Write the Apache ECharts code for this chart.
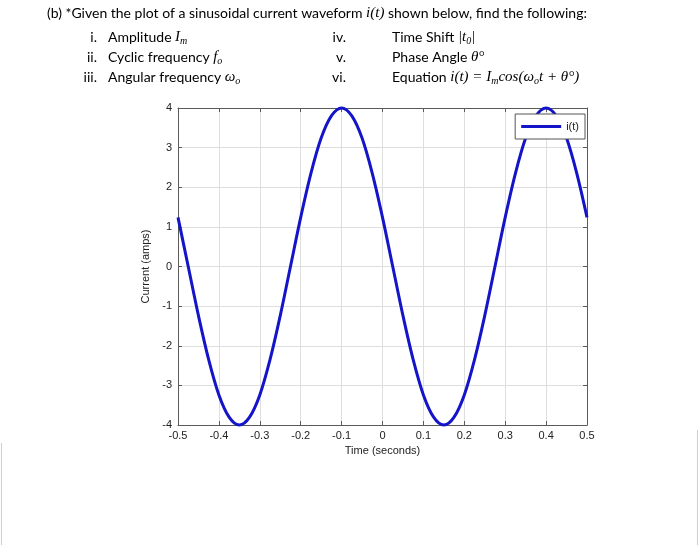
<!DOCTYPE html>
<html>
<head>
<meta charset="utf-8">
<script src="https://cdn.jsdelivr.net/npm/echarts@6/dist/echarts.min.js"></script>
<style>
  html, body { margin: 0; background: #fff; }
  #chart { width: 700px; height: 545px; }
</style>
</head>
<body>
<div id="chart"></div>
<script>
// samples, every 0.025 s
const timeVals = [-0.5, -0.475, -0.45, -0.425, -0.4, -0.375, -0.35, -0.325, -0.3, -0.275,
  -0.25, -0.225, -0.2, -0.175, -0.15, -0.125, -0.1, -0.075, -0.05, -0.025,
  0, 0.025, 0.05, 0.075, 0.1, 0.125, 0.15, 0.175, 0.2, 0.225,
  0.25, 0.275, 0.3, 0.325, 0.35, 0.375, 0.4, 0.425, 0.45, 0.475, 0.5];
const currentVals = [1.24, 0, -1.24, -2.35, -3.24, -3.8, -4, -3.8, -3.24, -2.35,
  -1.24, 0, 1.24, 2.35, 3.24, 3.8, 4, 3.8, 3.24, 2.35,
  1.24, 0, -1.24, -2.35, -3.24, -3.8, -4, -3.8, -3.24, -2.35,
  -1.24, 0, 1.24, 2.35, 3.24, 3.8, 4, 3.8, 3.24, 2.35, 1.24];
const seriesName = 'i(t)';

var myChart = echarts.init(document.getElementById('chart'));

const txtFont = 'Lato';
const mathFont = 'Liberation Serif';
const rich = {
  t: { fontFamily: txtFont, fontSize: 14, color: '#222', lineHeight: 18 },
  r: { fontFamily: txtFont, fontSize: 14, color: '#e03030', lineHeight: 18 },
  m: { fontFamily: mathFont, fontStyle: 'italic', fontSize: 15, color: '#222', lineHeight: 18 },
  s: { fontFamily: mathFont, fontStyle: 'italic', fontSize: 10, color: '#222', lineHeight: 18, verticalAlign: 'bottom' }
};
function txt(x, y, text, align) {
  return { type: 'text', x: x, y: y, style: { text: text, rich: rich, verticalAlign: 'middle', align: align || 'left' } };
}
const axisFont = { fontFamily: 'Liberation Sans', fontSize: 11, color: '#222' };
const axisLine = { show: true, onZero: false, lineStyle: { color: '#5a5a5a' } };
const tick = { show: true, inside: true, length: 4, lineStyle: { color: '#5a5a5a' } };

myChart.setOption({
  backgroundColor: '#fff',
  animation: false,
  grid: { left: 178, right: 113, top: 108, bottom: 120 },
  legend: {
    data: [seriesName],
    right: 115, top: 114,
    icon: 'rect', itemWidth: 40, itemHeight: 3, itemGap: 5,
    padding: [7, 6, 7, 6],
    borderColor: '#555', borderWidth: 1, backgroundColor: '#fff',
    textStyle: axisFont
  },
  xAxis: [{
    type: 'value', min: -0.5, max: 0.5, interval: 0.1,
    name: 'Time (seconds)', nameLocation: 'middle', nameGap: 20,
    nameTextStyle: axisFont,
    axisLine: axisLine, axisTick: tick,
    axisLabel: Object.assign({ margin: 5 }, axisFont),
    splitLine: { show: true, lineStyle: { color: '#dedede' } }
  }, {
    type: 'value', position: 'top', min: -0.5, max: 0.5, interval: 0.1,
    axisLine: axisLine, axisTick: tick,
    axisLabel: { show: false }, splitLine: { show: false }
  }],
  yAxis: [{
    type: 'value', min: -4, max: 4, interval: 1,
    name: 'Current (amps)', nameLocation: 'middle', nameGap: 17,
    nameTextStyle: axisFont,
    axisLine: axisLine, axisTick: tick,
    axisLabel: Object.assign({ margin: 6 }, axisFont),
    splitLine: { show: true, lineStyle: { color: '#dedede' } }
  }, {
    type: 'value', position: 'right', min: -4, max: 4, interval: 1,
    axisLine: axisLine, axisTick: tick,
    axisLabel: { show: false }, splitLine: { show: false }
  }],
  series: [{
    name: seriesName,
    type: 'line',
    smooth: 0.33,
    symbol: 'none',
    clip: false,
    lineStyle: { width: 3, color: '#1414c8' },
    itemStyle: { color: '#1414c8' },
    data: timeVals.map((t, i) => [t, currentVals[i]])
  }],
  graphic: [
    txt(47, 13, '{t|(b) }{r|*}{t|Given the plot of a sinusoidal current waveform }{m|i(t)}{t| shown below, find the following:}'),
    txt(97, 37, '{t|i.}', 'right'),
    txt(97, 57, '{t|ii.}', 'right'),
    txt(97, 77, '{t|iii.}', 'right'),
    txt(108, 37, '{t|Amplitude }{m|I}{s|m}'),
    txt(108, 57, '{t|Cyclic frequency }{m|f}{s|o}'),
    txt(108, 77, '{t|Angular frequency }{m|ω}{s|o}'),
    txt(346, 37, '{t|iv.}', 'right'),
    txt(346, 57, '{t|v.}', 'right'),
    txt(346, 77, '{t|vi.}', 'right'),
    txt(392, 37, '{t|Time Shift }{m||t}{s|0}{m||}'),
    txt(392, 57, '{t|Phase Angle }{m|θ°}'),
    txt(392, 77, '{t|Equation }{m|i(t) = I}{s|m}{m|cos(ω}{s|o}{m|t + θ°)}'),
    { type: 'line', shape: { x1: 1.5, y1: 443, x2: 1.5, y2: 545 }, style: { stroke: '#cfcfcf', lineWidth: 1 } },
    { type: 'line', shape: { x1: 697.5, y1: 430, x2: 697.5, y2: 545 }, style: { stroke: '#cfcfcf', lineWidth: 1 } }
  ]
});
</script>
</body>
</html>
